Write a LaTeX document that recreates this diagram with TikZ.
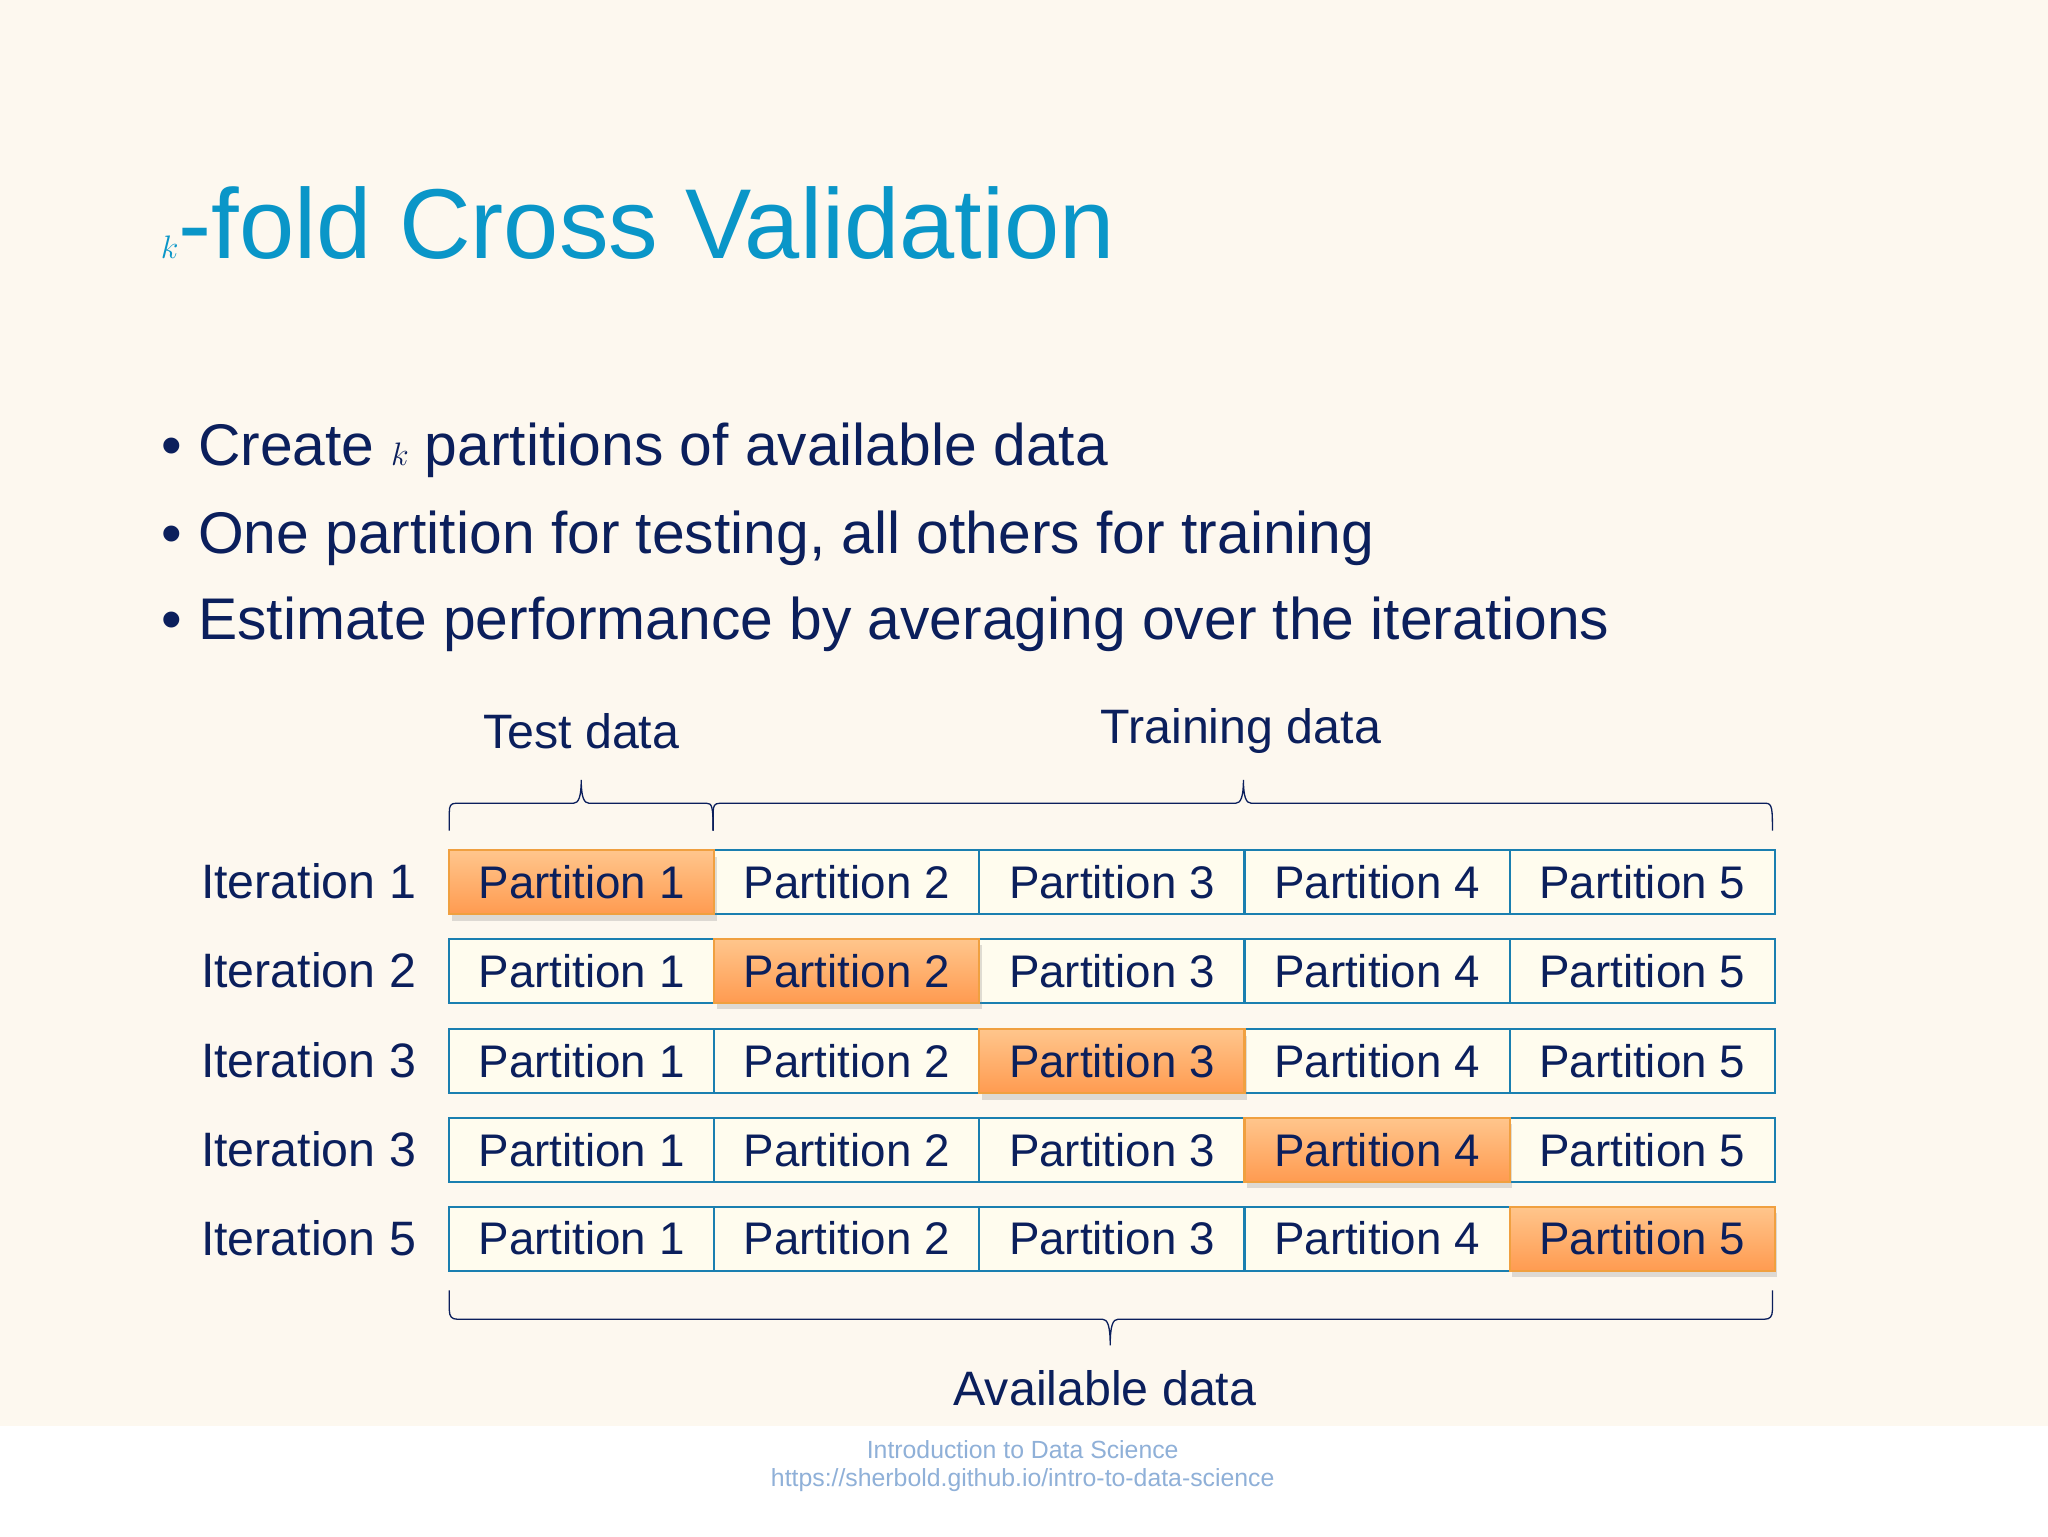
\documentclass[tikz,border=0pt]{standalone}
\usepackage{fontspec}
\setmainfont{Liberation Sans}
\usetikzlibrary{shadows,calc}
\definecolor{bg}{HTML}{FDF8EF}
\definecolor{navy}{HTML}{0B1F5C}
\definecolor{ttl}{HTML}{0A96C8}
\definecolor{cellb}{HTML}{1A7FB0}
\definecolor{cellf}{HTML}{FFFCEE}
\definecolor{orb}{HTML}{F0A040}
\definecolor{foot}{HTML}{8FB0D8}
\tikzset{
 cell/.style={draw=cellb,line width=1.6pt,fill=cellf,minimum width=203pt,minimum height=49pt,inner sep=0pt,anchor=north west,text=navy,font=\fontsize{35}{40}\selectfont},
 hcell/.style={cell,draw=orb,top color=orange!45!white,bottom color=orange!65!white!90!red,drop shadow={shadow xshift=2pt,shadow yshift=-5pt,opacity=0.25}},
 itlab/.style={anchor=east,text=navy,font=\fontsize{37}{42}\selectfont},
 bul/.style={anchor=west,text=navy,font=\fontsize{45}{50}\selectfont},
 lab/.style={text=navy,font=\fontsize{37}{42}\selectfont},
 brc/.style={draw=navy,line width=1pt},
}
\begin{document}
\begin{tikzpicture}[x=1pt,y=-1pt]
\useasboundingbox (0,0) rectangle (1568,1176);
\fill[bg] (0,0) rectangle (1568,1092);
\fill[white] (0,1092) rectangle (1568,1176);
\node[anchor=base west,text=ttl,font=\fontsize{76}{80}\selectfont,inner sep=0] (title) at (123,198) {$k$-fold Cross Validation};
\node[bul] (b1) at (120,345) {• Create $k$ partitions of available data};
\node[bul] (b2) at (120,412) {• One partition for testing, all others for training};
\node[bul] (b3) at (120,478) {• Estimate performance by averaging over the iterations};
\foreach \r/\y/\nm in {1/650/1,2/718/2,3/787/3,4/855/3,5/923/5}{
  \node[itlab] (it\r) at (322,\y+25) {Iteration \nm};
  \foreach \c in {1,...,5}{
    \ifnum\c=\r\relax\else
    \node[cell] (c\r\c) at ({343+203*(\c-1)},\y) {Partition \c};
    \fi
  }
  \node[hcell] (c\r\r) at ({343+203*(\r-1)},\y) {Partition \r};
}
% braces
\coordinate (t1) at (344,636); \coordinate (t2) at (546,636); \coordinate (t3) at (1357,636);
\draw[brc] (t1) -- (344,622) .. controls (344,617) and (345,615) .. (349,615) -- (439,615) .. controls (443,615) and (445,610) .. (445,597)
  .. controls (445,610) and (447,615) .. (451,615) -- (541,615) .. controls (545,615) and (546,617) .. (t2);
\draw[brc] (t2) -- (546,622) .. controls (546,617) and (547,615) .. (551,615) -- (946,615) .. controls (950,615) and (952,610) .. (952,597)
  .. controls (952,610) and (954,615) .. (958,615) -- (1352,615) .. controls (1357,615) and (1357,620) .. (t3);
\coordinate (a1) at (344,988); \coordinate (a2) at (1357,988);
\draw[brc] (a1) -- (344,1003) .. controls (344,1008) and (346,1010) .. (350,1010) -- (844,1010) .. controls (848,1010) and (850,1015) .. (850,1030)
  .. controls (850,1015) and (852,1010) .. (856,1010) -- (1351,1010) .. controls (1355,1010) and (1357,1008) .. (1357,1003) -- (a2);
\node[lab] (test) at (445,560) {Test data};
\node[lab] (train) at (950,560) {Training data};
\node[lab] (avail) at (846,1063) {Available data};
\node[text=foot,font=\fontsize{19}{22}\selectfont] (f1) at (783,1110) {Introduction to Data Science};
\node[text=foot,font=\fontsize{19}{22}\selectfont] (f2) at (783,1133) {https://sherbold.github.io/intro-to-data-science};
\end{tikzpicture}
\end{document}
